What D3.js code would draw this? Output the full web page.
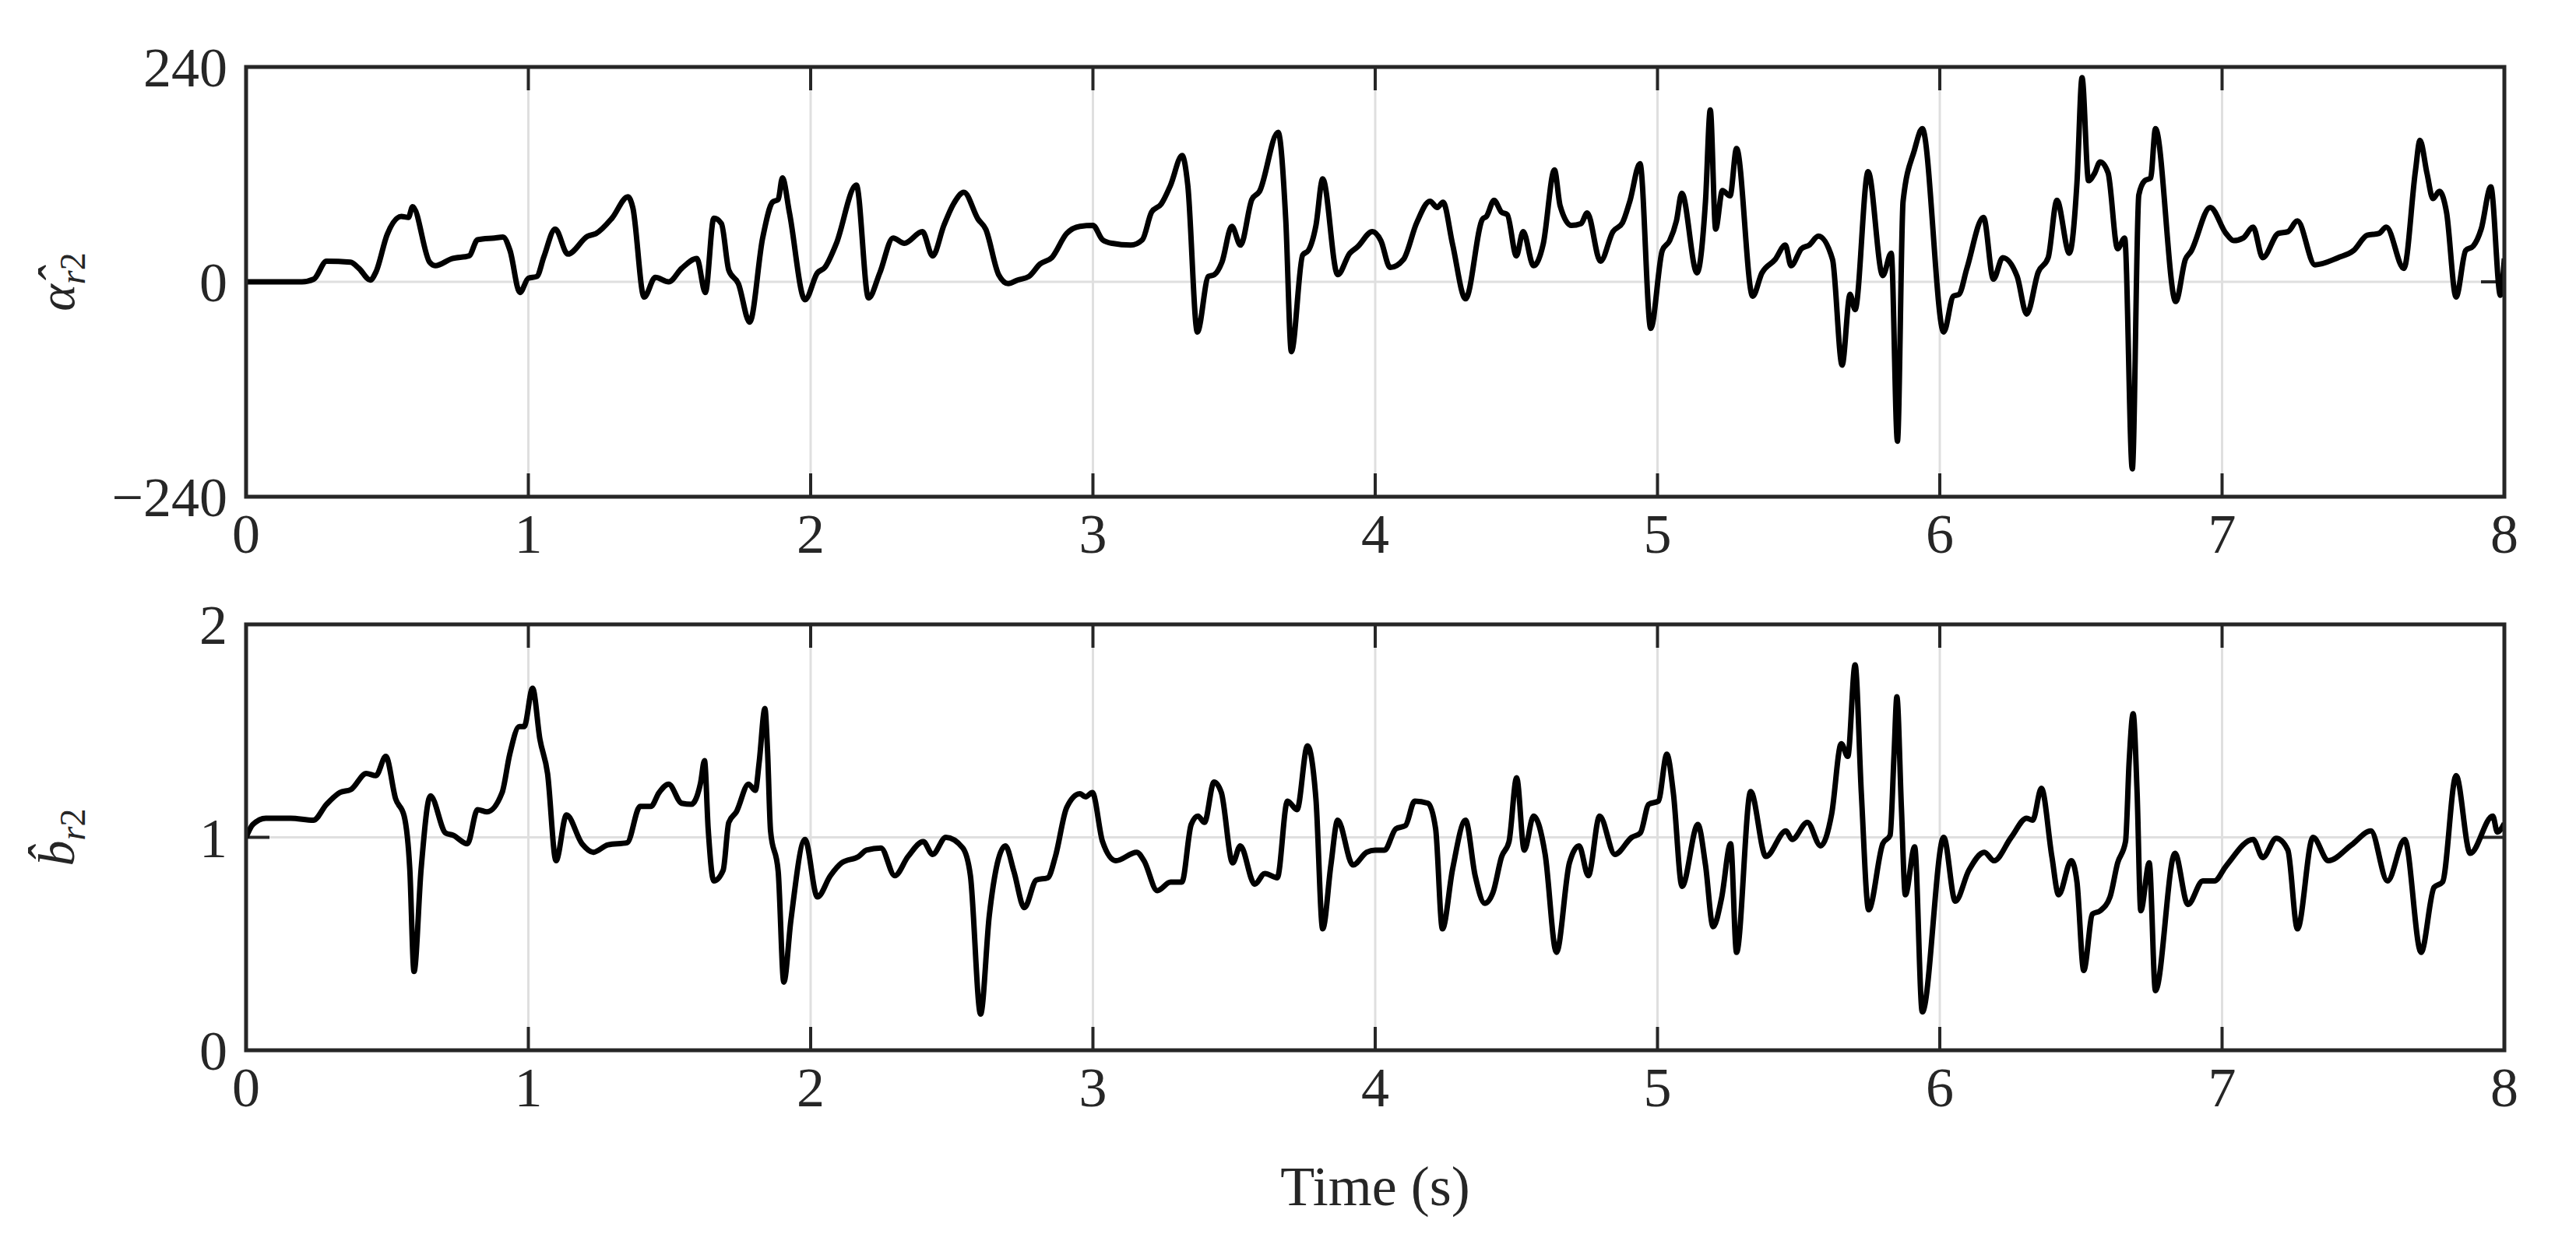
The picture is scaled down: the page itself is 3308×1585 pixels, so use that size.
<!DOCTYPE html>
<html><head><meta charset="utf-8">
<script src="https://cdn.jsdelivr.net/npm/d3@7"></script>
<style>html,body{margin:0;padding:0;background:#fff}svg text{font-family:"Liberation Serif","DejaVu Serif",serif;fill:#262626}</style>
</head><body><svg id="c" width="3308" height="1585"></svg>
<script>
const xTicks=[0,1,2,3,4,5,6,7,8];
const alphaTicks=[-240,0,240];
const bTicks=[0,1,2];
const alphaT=[0,.198,.24,.285,.37,.40,.44,.46,.50,.55,.575,.59,.65,.67,.73,.79,.82,.88,.91,.935,.97,1.0,1.03,1.055,1.095,1.14,1.21,1.24,1.296,1.353,1.37,1.41,1.45,1.497,1.543,1.597,1.627,1.657,1.684,1.71,1.744,1.784,1.83,1.865,1.885,1.90,1.925,1.98,2.024,2.05,2.09,2.162,2.205,2.245,2.292,2.332,2.396,2.432,2.472,2.506,2.543,2.593,2.62,2.666,2.70,2.733,2.773,2.813,2.854,2.907,2.954,3.0,3.034,3.068,3.134,3.175,3.208,3.242,3.275,3.316,3.336,3.37,3.409,3.43,3.457,3.492,3.523,3.563,3.59,3.656,3.683,3.703,3.743,3.763,3.79,3.814,3.867,3.91,3.937,3.99,4.02,4.053,4.1,4.147,4.194,4.22,4.24,4.274,4.32,4.38,4.394,4.421,4.447,4.468,4.50,4.524,4.561,4.595,4.635,4.655,4.695,4.729,4.751,4.798,4.842,4.876,4.902,4.938,4.976,5.017,5.043,5.067,5.086,5.14,5.17,5.187,5.206,5.23,5.257,5.28,5.337,5.37,5.417,5.453,5.473,5.51,5.537,5.57,5.62,5.654,5.682,5.70,5.746,5.798,5.828,5.85,5.87,5.91,5.938,6.014,6.048,6.068,6.096,6.155,6.19,6.223,6.274,6.308,6.349,6.384,6.415,6.459,6.486,6.504,6.527,6.548,6.568,6.596,6.63,6.655,6.682,6.705,6.726,6.747,6.764,6.836,6.87,6.89,6.958,7.014,7.041,7.075,7.11,7.144,7.199,7.233,7.267,7.329,7.411,7.466,7.514,7.555,7.582,7.644,7.685,7.701,7.726,7.747,7.77,7.795,7.829,7.863,7.89,7.918,7.952,7.986,8.0];
const alphaV=[0,0,3,23,22,15,2,11,53,73,72,84,22,18,26,29,47,49,50,35,-12,4,6,28,59,31,51,54,71,95,83,-17,5,0,15,26,-12,71,65,13,-2,-45,49,89,92,116,77,-20,10,16,42,108,-18,10,49,43,56,29,63,87,100,70,59,8,-2,2,6,20,27,54,62,63,47,43,41,47,78,87,108,141,108,-56,6,8,22,62,41,92,101,167,70,-78,30,35,63,115,8,32,39,56,46,16,25,66,90,83,89,42,-19,70,73,91,78,75,29,56,18,42,125,85,63,65,77,23,56,66,90,132,-52,35,46,68,99,10,90,192,59,102,96,149,-16,10,25,41,18,37,41,51,25,-93,-14,-31,123,7,32,-178,90,147,171,-56,-16,-14,15,72,3,27,6,-36,11,27,91,32,111,228,113,121,134,122,37,49,-209,97,113,116,171,-22,25,34,83,54,46,49,61,27,54,56,68,19,27,35,52,54,61,15,124,158,121,93,101,78,-17,35,40,59,106,-15,26];
const bT=[0,.024,.07,.158,.238,.285,.332,.372,.426,.46,.495,.53,.56,.58,.595,.62,.653,.707,.733,.784,.82,.854,.907,.934,.968,.985,1.015,1.041,1.068,1.098,1.135,1.19,1.23,1.282,1.35,1.396,1.434,1.463,1.497,1.543,1.577,1.61,1.624,1.637,1.657,1.69,1.71,1.737,1.78,1.804,1.818,1.838,1.847,1.858,1.885,1.905,1.93,1.98,2.024,2.07,2.11,2.17,2.198,2.249,2.298,2.345,2.399,2.432,2.479,2.539,2.566,2.602,2.633,2.69,2.72,2.757,2.8,2.84,2.867,2.907,2.954,2.974,2.998,3.034,3.081,3.155,3.181,3.228,3.275,3.315,3.348,3.372,3.395,3.429,3.455,3.495,3.522,3.573,3.609,3.653,3.689,3.723,3.76,3.79,3.814,3.843,3.867,3.921,3.97,4.0,4.033,4.073,4.107,4.14,4.187,4.214,4.238,4.274,4.32,4.354,4.388,4.417,4.448,4.474,4.501,4.528,4.561,4.602,4.642,4.688,4.722,4.755,4.795,4.849,4.909,4.939,4.969,5.003,5.033,5.056,5.087,5.143,5.17,5.197,5.227,5.259,5.28,5.33,5.384,5.455,5.477,5.531,5.578,5.617,5.651,5.674,5.7,5.722,5.748,5.798,5.824,5.838,5.848,5.864,5.878,5.911,5.938,6.014,6.055,6.103,6.158,6.192,6.253,6.308,6.329,6.36,6.397,6.421,6.466,6.486,6.51,6.541,6.568,6.603,6.63,6.658,6.671,6.685,6.699,6.712,6.742,6.764,6.833,6.879,6.932,6.973,7.014,7.11,7.144,7.192,7.233,7.267,7.322,7.377,7.459,7.527,7.586,7.647,7.705,7.751,7.781,7.829,7.879,7.959,7.975,8.0];
const bV=[1.0,1.06,1.09,1.09,1.08,1.155,1.21,1.225,1.30,1.29,1.38,1.18,1.10,0.85,0.37,0.85,1.195,1.02,1.01,0.97,1.13,1.12,1.21,1.39,1.52,1.52,1.70,1.46,1.30,0.89,1.105,0.97,0.93,0.965,0.975,1.145,1.145,1.21,1.25,1.16,1.155,1.255,1.36,1.04,0.795,0.845,1.07,1.12,1.25,1.22,1.357,1.605,1.415,1.03,0.84,0.32,0.61,0.99,0.72,0.82,0.88,0.91,0.94,0.95,0.82,0.91,0.98,0.92,1.0,0.95,0.82,0.17,0.635,0.96,0.84,0.67,0.80,0.81,0.91,1.14,1.205,1.19,1.21,0.98,0.89,0.93,0.89,0.75,0.79,0.79,1.06,1.10,1.07,1.26,1.21,0.88,0.96,0.78,0.83,0.81,1.17,1.13,1.43,1.18,0.57,0.87,1.08,0.87,0.93,0.94,0.94,1.04,1.055,1.17,1.16,1.04,0.57,0.85,1.08,0.82,0.69,0.74,0.91,0.98,1.28,0.94,1.10,0.92,0.46,0.88,0.96,0.82,1.10,0.92,1.0,1.02,1.155,1.17,1.39,1.21,0.77,1.06,0.87,0.58,0.715,0.97,0.46,1.215,0.91,1.03,0.99,1.07,0.96,1.11,1.44,1.38,1.81,1.21,0.66,0.97,1.01,1.39,1.66,1.14,0.73,0.955,0.18,1.0,0.70,0.845,0.93,0.89,1.0,1.09,1.08,1.23,0.91,0.73,0.89,0.79,0.375,0.64,0.655,0.72,0.88,0.98,1.36,1.58,1.21,0.655,0.88,0.28,0.925,0.685,0.795,0.795,0.865,0.99,0.905,0.995,0.94,0.57,1.0,0.89,0.965,1.03,0.795,0.99,0.46,0.765,0.79,1.29,0.925,1.10,1.025,1.065];

const svg=d3.select('#c');
const L=316,R=3216;
const x=d3.scaleLinear().domain([0,8]).range([L,R]);
const panels=[
 {t:alphaT,v:alphaV,ticks:alphaTicks,dom:[-240,240],top:86,bot:638,fmt:d=>d<0?'\u2212'+(-d):String(d),lab:'a'},
 {t:bT,v:bV,ticks:bTicks,dom:[0,2],top:802,bot:1349,fmt:d=>String(d),lab:'b'}
];
const FS=72, tickLen=30;
panels.forEach(p=>{
 const y=d3.scaleLinear().domain(p.dom).range([p.bot,p.top]);
 const g=svg.append('g');
 const clipId='clip'+p.lab;
 svg.append('clipPath').attr('id',clipId).append('rect').attr('x',L).attr('y',p.top).attr('width',R-L).attr('height',p.bot-p.top);
 g.selectAll('.gx').data(xTicks).enter().append('line').attr('x1',d=>x(d)).attr('x2',d=>x(d)).attr('y1',p.top).attr('y2',p.bot).attr('stroke','#dfdfdf').attr('stroke-width',3);
 g.selectAll('.gy').data(p.ticks).enter().append('line').attr('y1',d=>y(d)).attr('y2',d=>y(d)).attr('x1',L).attr('x2',R).attr('stroke','#dfdfdf').attr('stroke-width',3);
 xTicks.forEach(d=>{
  g.append('line').attr('x1',x(d)).attr('x2',x(d)).attr('y1',p.bot).attr('y2',p.bot-tickLen).attr('stroke','#262626').attr('stroke-width',4);
  g.append('line').attr('x1',x(d)).attr('x2',x(d)).attr('y1',p.top).attr('y2',p.top+tickLen).attr('stroke','#262626').attr('stroke-width',4);
 });
 p.ticks.forEach(d=>{
  g.append('line').attr('x1',L).attr('x2',L+tickLen).attr('y1',y(d)).attr('y2',y(d)).attr('stroke','#262626').attr('stroke-width',4);
  g.append('line').attr('x1',R).attr('x2',R-tickLen).attr('y1',y(d)).attr('y2',y(d)).attr('stroke','#262626').attr('stroke-width',4);
 });
 const data=p.t.map((t,i)=>[t,p.v[i]]);
 g.append('path').datum(data).attr('clip-path','url(#'+clipId+')').attr('fill','none').attr('stroke','#000').attr('stroke-width',7).attr('stroke-linejoin','round')
  .attr('d',d3.line().x(d=>x(d[0])).y(d=>y(d[1])).curve(d3.curveMonotoneX));
 g.append('rect').attr('x',L).attr('y',p.top).attr('width',R-L).attr('height',p.bot-p.top).attr('fill','none').attr('stroke','#262626').attr('stroke-width',5);
 g.selectAll('.yl').data(p.ticks).enter().append('text').attr('x',L-24).attr('y',d=>y(d)).attr('dy','0.35em').attr('text-anchor','end').attr('font-size',FS).text(p.fmt);
 g.selectAll('.xl').data(xTicks).enter().append('text').attr('x',d=>x(d)).attr('y',p.bot+72).attr('text-anchor','middle').attr('font-size',FS).text(d=>d);
 const cy=(p.top+p.bot)/2;
 const t=g.append('text').attr('transform',`translate(95,${cy}) rotate(-90)`).attr('text-anchor','middle').attr('font-size',66);
 t.append('tspan').attr('font-style','italic').text(p.lab==='a'?'\u03B1\u0302':'b\u0302');
 t.append('tspan').attr('font-style','italic').attr('font-size',46).attr('dy',14).text('r');
 t.append('tspan').attr('font-size',46).text('2');
});
svg.append('text').attr('x',(L+R)/2).attr('y',1548).attr('text-anchor','middle').attr('font-size',FS).text('Time (s)');
</script></body></html>
